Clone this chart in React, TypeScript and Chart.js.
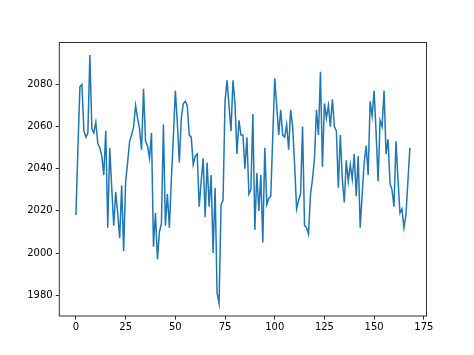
import React, { useEffect, useRef } from "react";
import { Chart, registerables } from "chart.js";

Chart.register(...registerables);

const values: number[] = [
  2018, 2050, 2079, 2080, 2058, 2055, 2057, 2094, 2059, 2057,
  2062, 2052, 2050, 2046, 2037, 2058, 2012, 2050, 2031, 2013,
  2029, 2019, 2007, 2032, 2001, 2034, 2043, 2053, 2056, 2060,
  2070, 2064, 2059, 2049, 2078, 2053, 2051, 2045, 2057, 2003,
  2019, 1997, 2010, 2014, 2061, 2013, 2028, 2012, 2035, 2055,
  2077, 2062, 2043, 2064, 2071, 2072, 2070, 2056, 2055, 2042,
  2046, 2047, 2022, 2034, 2045, 2017, 2043, 2022, 2037, 2000,
  2031, 1981, 1976, 2023, 2025, 2072, 2082, 2070, 2058, 2082,
  2071, 2047, 2063, 2056, 2056, 2040, 2055, 2028, 2030, 2066,
  2011, 2038, 2020, 2037, 2005, 2050, 2023, 2026, 2027, 2055,
  2083, 2070, 2056, 2068, 2056, 2055, 2061, 2049, 2068, 2060,
  2042, 2021, 2025, 2028, 2060, 2013, 2012, 2009, 2028, 2035,
  2045, 2068, 2056, 2086, 2041, 2071, 2064, 2070, 2060, 2073,
  2060, 2058, 2031, 2056, 2035, 2024, 2044, 2034, 2042, 2035,
  2047, 2027, 2046, 2012, 2028, 2043, 2051, 2037, 2072, 2065,
  2077, 2057, 2034, 2063, 2060, 2077, 2047, 2054, 2033, 2030,
  2022, 2053, 2035, 2019, 2021, 2012, 2018, 2034, 2050,
];

const xTicks: number[] = [0, 25, 50, 75, 100, 125, 150, 175];
const yTicks: number[] = [1980, 2000, 2020, 2040, 2060, 2080];

const W = 474;
const H = 355;

export default function App() {
  const ref = useRef<HTMLCanvasElement | null>(null);

  useEffect(() => {
    document.body.style.margin = "0";
    const canvas = ref.current;
    if (!canvas) return;

    const pts = values.map((v, i) => ({ x: i, y: v }));
    const n = values.length - 1;
    const xMargin = n * 0.05;
    const yMin = Math.min(...values);
    const yMax = Math.max(...values);
    const yMargin = (yMax - yMin) * 0.05;

    const frame = {
      id: "frame",
      afterDraw(chart: any) {
        const { ctx, chartArea } = chart;
        ctx.save();
        ctx.strokeStyle = "#000";
        ctx.lineWidth = 0.8;
        ctx.strokeRect(
          chartArea.left,
          chartArea.top,
          chartArea.right - chartArea.left,
          chartArea.bottom - chartArea.top
        );
        ctx.restore();
      },
    };

    const font = { family: "'DejaVu Sans', sans-serif", size: 10 };

    const chart = new Chart(canvas, {
      type: "line",
      data: {
        datasets: [
          {
            data: pts,
            borderColor: "#1f77b4",
            borderWidth: 1.5,
            pointRadius: 0,
            tension: 0,
            fill: false,
          },
        ],
      },
      options: {
        animation: false,
        responsive: false,
        maintainAspectRatio: false,
        layout: { padding: { left: 0, top: 42.6, right: W - 426.6, bottom: 0 } },
        plugins: { legend: { display: false }, tooltip: { enabled: false } },
        scales: {
          x: {
            type: "linear",
            min: -xMargin,
            max: n + xMargin,
            afterBuildTicks: (s: any) => {
              s.ticks = xTicks.map((v) => ({ value: v }));
            },
            afterFit: (s: any) => {
              s.height = H - 316;
            },
            border: { display: false },
            grid: {
              drawOnChartArea: false,
              drawTicks: true,
              tickLength: 3.6,
              color: "#000",
              lineWidth: 0.8,
            },
            ticks: {
              color: "#000",
              font,
              padding: 2,
              maxRotation: 0,
              autoSkip: false,
              callback: (v: any) => String(v),
            },
          },
          y: {
            type: "linear",
            min: yMin - yMargin,
            max: yMax + yMargin,
            afterBuildTicks: (s: any) => {
              s.ticks = yTicks.map((v) => ({ value: v }));
            },
            afterFit: (s: any) => {
              s.width = 59.25;
            },
            border: { display: false },
            grid: {
              drawOnChartArea: false,
              drawTicks: true,
              tickLength: 3.6,
              color: "#000",
              lineWidth: 0.8,
            },
            ticks: {
              color: "#000",
              font,
              padding: 3,
              autoSkip: false,
              callback: (v: any) => String(v),
            },
          },
        },
      },
      plugins: [frame],
    });

    return () => chart.destroy();
  }, []);

  return (
    <div style={{ width: W, height: H, background: "#fff" }}>
      <canvas ref={ref} width={W} height={H} style={{ display: "block" }} />
    </div>
  );
}
